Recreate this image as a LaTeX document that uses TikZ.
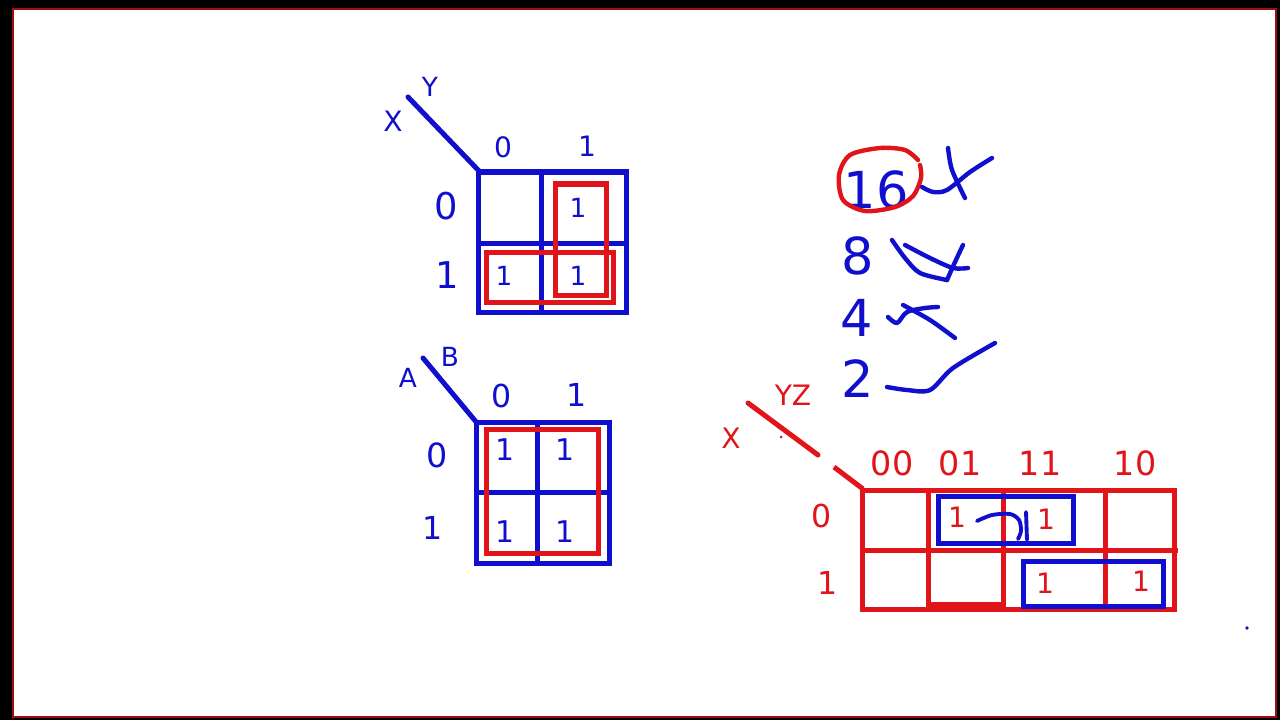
\documentclass[tikz,border=0pt]{standalone}
\usepackage{fontspec}
\setmainfont{DejaVu Sans}
\definecolor{penblue}{RGB}{15,15,205}
\definecolor{penred}{RGB}{225,20,25}

\begin{document}
\begin{tikzpicture}[x=0.02cm,y=-0.02cm,
  gridb/.style={penblue,line width=2.85pt},
  gridr/.style={penred,line width=2.85pt},
  loopr/.style={penred,line width=2.85pt},
  loopb/.style={penblue,line width=2.85pt},
  ink/.style={penblue,line width=2.5pt,line cap=round,line join=round},
  lab/.style={inner sep=0pt,font=\fontsize{#1}{#1}\selectfont},
  bl/.style={text=penblue},
  rd/.style={text=penred}]
  \fill[black] (0,0) rectangle (1280,720);
  \fill[white,draw=penred!70!black,line width=0.8pt] (13,9) rectangle (1276,717);

  \draw[gridb] (478,172) rectangle (626,312);
  \draw[gridb] (541,172) -- (541,312);
  \draw[gridb] (478,243) -- (628,243);
  \coordinate (xy) at (408,97);
  \coordinate (xyc) at (480,172);
  \draw[gridb,line cap=round] (xy) -- (xyc);
  \node[bl,lab=16] (xyx) at (393,121) {X};
  \node[bl,lab=15] (xyy) at (430,87) {Y};
  \node[bl,lab=16] (xyc0) at (503,147) {0};
  \node[bl,lab=16] (xyc1) at (587,146) {1};
  \node[bl,lab=21] (xyr0) at (446,206) {0};
  \node[bl,lab=21] (xyr1) at (447,275) {1};
  \node[bl,lab=15] (xy01) at (578,208) {1};
  \node[bl,lab=15] (xy10) at (504,276) {1};
  \node[bl,lab=15] (xy11) at (578,276) {1};
  \draw[loopr] (555,184) rectangle (606,295);
  \draw[loopr] (486,252) rectangle (613,302);

  \draw[gridb] (476,422) rectangle (609,563);
  \draw[gridb] (537,422) -- (537,563);
  \draw[gridb] (476,492) -- (609,492);
  \coordinate (ab) at (423,358);
  \coordinate (abc) at (477,423);
  \draw[gridb,line cap=round] (ab) -- (abc);
  \node[bl,lab=15] (aba) at (408,378) {A};
  \node[bl,lab=15] (abb) at (450,357) {B};
  \node[bl,lab=18] (abc0) at (502,396) {0};
  \node[bl,lab=18] (abc1) at (577,395) {1};
  \node[bl,lab=19] (abr0) at (437,455) {0};
  \node[bl,lab=18] (abr1) at (433,528) {1};
  \node[bl,lab=17] (ab00) at (505,450) {1};
  \node[bl,lab=17] (ab01) at (565,450) {1};
  \node[bl,lab=17] (ab10) at (505,532) {1};
  \node[bl,lab=17] (ab11) at (565,532) {1};
  \draw[loopr] (486,429) rectangle (598,553);

  \draw[gridr] (862,490) rectangle (1174,609);
  \foreach \cx in {928,1003,1105}
    \draw[gridr] (\cx,490) -- (\cx,609);
  \draw[gridr] (862,550) -- (1178,550);
  \draw[penred,line width=4pt] (928,606) -- (1003,606);
  \coordinate (yz) at (748,403);
  \coordinate (yzc) at (863,489);
  \coordinate (yzg1) at (818,455);
  \coordinate (yzg2) at (834,467);
  \draw[gridr,line cap=round] (yz) -- (yzg1);
  \draw[gridr] (yzg2) -- (yzc);
  \fill[penred] (781,437) circle (1.5);
  \node[rd,lab=16] (yzx) at (731,438) {X};
  \node[rd,lab=16] (yzyz) at (793,395) {YZ};
  \node[rd,lab=19] (yzc0) at (892,463) {00};
  \node[rd,lab=19] (yzc1) at (960,463) {01};
  \node[rd,lab=19] (yzc3) at (1040,463) {11};
  \node[rd,lab=19] (yzc2) at (1135,463) {10};
  \node[rd,lab=18] (yzr0) at (822,516) {0};
  \node[rd,lab=18] (yzr1) at (828,583) {1};
  \node[rd,lab=16] (yz01) at (957,517) {1};
  \node[rd,lab=16] (yz03) at (1046,519) {1};
  \node[rd,lab=16] (yz13) at (1045,583) {1};
  \node[rd,lab=16] (yz12) at (1141,581) {1};
  \draw[loopb] (938,496) rectangle (1073,543);
  \draw[loopb] (1023,561) rectangle (1163,606);
  \draw[ink,line width=2.2pt] plot[smooth] coordinates {(977,521) (992,515) (1010,514) (1019,520) (1021,531) (1018,539)};
  \draw[ink,line width=2.2pt] (1026,512) -- (1027,540);

  \node[bl,lab=29] (n16) at (876,190) {16};
  \node[bl,lab=29] (n8) at (858,256) {8};
  \node[bl,lab=29] (n4) at (857,318) {4};
  \node[bl,lab=29] (n2) at (858,379) {2};
  \draw[penred,line width=2.5pt,line cap=round] plot[smooth] coordinates {(918,160) (905,150) (880,148) (850,155) (839,175) (843,200) (865,211) (895,207) (913,196) (921,178) (920,165)};
  \draw[ink] plot[smooth] coordinates {(922,187) (933,192) (947,190) (970,172) (992,158)};
  \draw[ink] plot[smooth] coordinates {(948,148) (952,170) (965,198)};
  \draw[ink] plot[smooth] coordinates {(892,240) (905,258) (920,273) (947,280)};
  \draw[ink] plot[smooth] coordinates {(947,280) (955,262) (963,245)};
  \draw[ink] plot[smooth] coordinates {(905,245) (930,258) (953,268) (968,268)};
  \draw[ink] plot[smooth] coordinates {(888,317) (897,323) (907,312) (925,308) (938,307)};
  \draw[ink] plot[smooth] coordinates {(903,305) (930,320) (955,338)};
  \draw[ink] plot[smooth] coordinates {(887,387) (907,390) (930,390) (953,368) (995,343)};
  \fill[penblue] (1247,628) circle (1.8);
\end{tikzpicture}
\end{document}
